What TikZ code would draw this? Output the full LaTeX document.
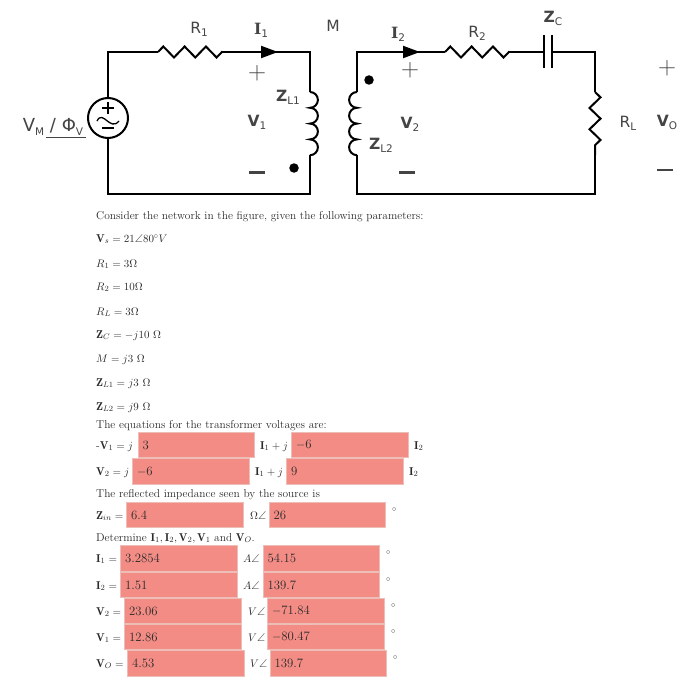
\documentclass[tikz,border=0pt]{standalone}
\usepackage{amssymb}
\usepackage{amsmath}
\usepackage{fontspec}
\newfontfamily\labelfont{DejaVu Sans}
\newfontfamily\slabfont{DejaVu Serif}
\usetikzlibrary{arrows.meta, decorations.pathmorphing}
\definecolor{answerfill}{HTML}{F28C85}
\definecolor{answerline}{HTML}{EDBDB8}
\definecolor{labelgray}{HTML}{444444}
\definecolor{bodygray}{HTML}{2A2A2A}
\newcommand{\subt}[1]{\raisebox{-0.35ex}{\fontsize{10.5}{10.5}\selectfont #1}}
\tikzset{
    wire/.style={line width=2pt, line join=miter}, % the circuit lines
    resistor/.style={wire, decorate, decoration={zigzag, amplitude=5.5pt, segment length=21.3pt}},
    coilright/.style={wire, to path={arc[start angle=90, end angle=-90, radius=7.9pt] arc[start angle=90, end angle=-90, radius=7.9pt] arc[start angle=90, end angle=-90, radius=7.9pt] arc[start angle=90, end angle=-90, radius=7.9pt]}},
    coilleft/.style={wire, to path={arc[start angle=90, end angle=270, radius=7.9pt] arc[start angle=90, end angle=270, radius=7.9pt] arc[start angle=90, end angle=270, radius=7.9pt] arc[start angle=90, end angle=270, radius=7.9pt]}},
    dotmark/.style={circle, fill=black, inner sep=0pt, minimum size=9.5pt},
    tag/.style={inner sep=0pt, text=labelgray, font=\labelfont\fontsize{15.5}{15.5}\selectfont},
    plusmark/.style={inner sep=0pt, text=labelgray, font=\fontsize{25}{25}\selectfont},
    minusmark/.style={inner sep=0pt, text=labelgray},
    body/.style={anchor=base west, inner sep=0pt, text=bodygray, font=\fontsize{11.4}{12}\selectfont},
    answer/.style={draw=answerline, line width=0.8pt, fill=answerfill, inner sep=0pt, minimum width=116.5pt, minimum height=25.5pt, text width=108pt, align=left, text=bodygray, font=\fontsize{12.8}{13}\selectfont},
}
\begin{document}
\begin{tikzpicture}[x=1pt, y=-1pt]
\useasboundingbox (0,0) rectangle (690,690);
% left loop
\node[circle, draw, line width=2pt, minimum size=40pt, inner sep=0pt] (vs) at (108,118) {};
\coordinate (tl) at (108,52);
\coordinate (ra) at (158,52);
\coordinate (rb) at (222,52);
\coordinate (ia) at (258,52);
\coordinate (ib) at (278,52);
\coordinate (tr) at (310,52);
\coordinate (la) at (310,92);
\coordinate (lb) at (310,155);
\coordinate (br) at (310,194);
\coordinate (bl) at (108,194);
\draw[wire] (vs.north) -- (tl) -- (ra);
\draw[resistor] (ra) -- (rb);
\draw[wire] (rb) -- (tr) -- (la);
\draw[wire, -{Stealth[length=17pt, width=12pt, inset=0pt]}] (ia) -- (ib);
\draw[coilright] (la) to (lb);
\draw[wire] (lb) -- (br) -- (bl) -- (vs.south);
% source symbol
\coordinate (sa) at (97,121);
\coordinate (sb) at (119,121);
\coordinate (pa) at (102,108);
\coordinate (pb) at (114,108);
\coordinate (pc) at (108,102);
\coordinate (pd) at (108,114);
\coordinate (ma) at (102,128);
\coordinate (mb) at (114,128);
\draw[line width=1.6pt] (pa) -- (pb) (pc) -- (pd) (ma) -- (mb);
\draw[line width=1.3pt] (sa) .. controls (103,109) and (110,132) .. (sb);
% right loop
\coordinate (tl2) at (357,52);
\coordinate (ja) at (402,52);
\coordinate (jb) at (420,52);
\coordinate (rc) at (445,52);
\coordinate (rd) at (509,52);
\coordinate (ca) at (544,52);
\coordinate (cb) at (552,52);
\coordinate (ct) at (544,35);
\coordinate (cu) at (544,68);
\coordinate (cv) at (552,35);
\coordinate (cw) at (552,68);
\coordinate (tr2) at (595,52);
\coordinate (rla) at (595,92);
\coordinate (rlb) at (595,155);
\coordinate (br2) at (595,194);
\coordinate (bl2) at (357,194);
\coordinate (lc) at (357,92);
\coordinate (ld) at (357,155);
\draw[wire] (lc) -- (tl2) -- (rc);
\draw[wire, -{Stealth[length=17pt, width=12pt, inset=0pt]}] (ja) -- (jb);
\draw[resistor] (rc) -- (rd);
\draw[wire] (rd) -- (ca);
\draw[wire] (ct) -- (cu);
\draw[wire] (cv) -- (cw);
\draw[wire] (cb) -- (tr2) -- (rla);
\draw[resistor] (rla) -- (rlb);
\draw[wire] (rlb) -- (br2) -- (bl2) -- (ld);
\draw[coilleft] (lc) to (ld);
% dots
\node[dotmark] (d1) at (294,168) {};
\node[dotmark] (d2) at (369,80) {};
% circuit labels
\node[tag] (lr1) at (199,29) {R\subt{1}};
\node[tag] (li1) at (261,30) {{\slabfont\bfseries I}\subt{1}};
\node[tag] (lm) at (333,26) {M};
\node[tag] (li2) at (398,34) {{\slabfont\bfseries I}\subt{2}};
\node[tag] (lr2) at (477,33) {R\subt{2}};
\node[tag] (lzc) at (553,18) {\textbf{Z}\subt{C}};
\node[tag] (lz1) at (288,97) {\textbf{Z}\subt{L1}};
\node[tag] (lz2) at (381,145) {\textbf{Z}\subt{L2}};
\node[tag] (lv1) at (257,122) {\textbf{V}\subt{1}};
\node[tag] (lv2) at (410,124) {\textbf{V}\subt{2}};
\node[tag] (lrl) at (628,123) {R\subt{L}};
\node[tag] (lvo) at (667,122) {\textbf{V}\subt{O}};
\node[tag, font=\labelfont\fontsize{18}{18}\selectfont] (lvs) at (53,127) {V\subt{M} / Φ\subt{V}};
\coordinate (ua) at (46,137);
\coordinate (ub) at (86,137);
\draw[labelgray, line width=0.8pt] (ua) -- (ub);
\node[plusmark] (p1) at (257,73) {+};
\node[plusmark] (p2) at (410,70) {+};
\node[plusmark] (p3) at (667,68) {+};
\node[minusmark] (m1) at (257,172.5) {\rule{16pt}{2.6pt}};
\node[minusmark] (m2) at (407,172.5) {\rule{16pt}{2.6pt}};
\node[minusmark] (m3) at (665,170) {\rule{16pt}{2.6pt}};
% parameters
\node[body] (t1) at (96,219) {Consider the network in the figure, given the following parameters:};
\node[body] (t2) at (96,242) {$\mathbf{V}_s = 21\angle 80^\circ V$};
\node[body] (t3) at (96,267) {$R_1 = 3\Omega$};
\node[body] (t4) at (96,290) {$R_2 = 10\Omega$};
\node[body] (t5) at (96,315) {$R_L = 3\Omega$};
\node[body] (t6) at (96,338) {$\mathbf{Z}_C = -j10\ \Omega$};
\node[body] (t7) at (96,362) {$M = j3\ \Omega$};
\node[body] (t8) at (96,386) {$\mathbf{Z}_{L1} = j3\ \Omega$};
\node[body] (t9) at (96,410) {$\mathbf{Z}_{L2} = j9\ \Omega$};
\node[body] (t10) at (96,428) {The equations for the transformer voltages are:};
% transformer equations
\node[body] (e1) at (96,449) {-$\mathbf{V}_1 = j$};
\node[answer] (b1) at (196.5,445) {3};
\node[body] (e2) at (260,449) {$\mathbf{I}_1 + j$};
\node[answer] (b2) at (350,445) {$-$6};
\node[body] (e3) at (414,449) {$\mathbf{I}_2$};
\node[body] (e4) at (96,475) {$\mathbf{V}_2 = j$};
\node[answer] (b3) at (191,471.5) {$-$6};
\node[body] (e5) at (255,475) {$\mathbf{I}_1 + j$};
\node[answer] (b4) at (345,471.5) {9};
\node[body] (e6) at (409,475) {$\mathbf{I}_2$};
\node[body] (t11) at (96,497) {The reflected impedance seen by the source is};
\node[body] (e7) at (96,519) {$\mathbf{Z}_{in} =$};
\node[answer] (b5) at (185,515) {6.4};
\node[body] (e8) at (250,519) {$\Omega\angle$};
\node[answer] (b6) at (327.5,515) {26};
\node[body] (e9) at (392,515) {$^\circ$};
\node[body] (t12) at (96,541) {Determine $\mathbf{I}_1, \mathbf{I}_2, \mathbf{V}_2, \mathbf{V}_1$ and $\mathbf{V}_O$.};
% answers
\node[body] (f1) at (96,562) {$\mathbf{I}_1 =$};
\node[answer] (b7) at (179,558.5) {3.2854};
\node[body] (g1) at (243,562) {$A\angle$};
\node[answer] (b8) at (321.5,558.5) {54.15};
\node[body] (h1) at (386,558) {$^\circ$};
\node[body] (f2) at (96,589) {$\mathbf{I}_2 =$};
\node[answer] (b9) at (179,585) {1.51};
\node[body] (g2) at (243,589) {$A\angle$};
\node[answer] (b10) at (321.5,585) {139.7};
\node[body] (h2) at (386,585) {$^\circ$};
\node[body] (f3) at (96,615) {$\mathbf{V}_2 =$};
\node[answer] (b11) at (183,611) {23.06};
\node[body] (g3) at (248,615) {$V\angle$};
\node[answer] (b12) at (326,611) {$-$71.84};
\node[body] (h3) at (391,611) {$^\circ$};
\node[body] (f4) at (96,641) {$\mathbf{V}_1 =$};
\node[answer] (b13) at (183,637) {12.86};
\node[body] (g4) at (248,641) {$V\angle$};
\node[answer] (b14) at (326,637) {$-$80.47};
\node[body] (h4) at (391,637) {$^\circ$};
\node[body] (f5) at (96,667) {$\mathbf{V}_O =$};
\node[answer] (b15) at (186,663.5) {4.53};
\node[body] (g5) at (250,667) {$V\angle$};
\node[answer] (b16) at (328.5,663.5) {139.7};
\node[body] (h5) at (393,663) {$^\circ$};
\end{tikzpicture}
\end{document}
